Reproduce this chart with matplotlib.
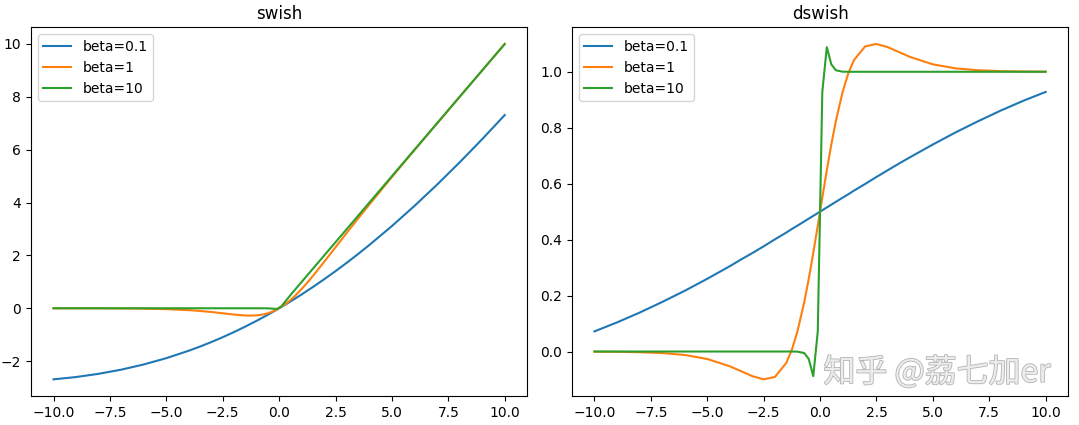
import matplotlib
matplotlib.use('Agg')
import matplotlib.pyplot as plt
import matplotlib.patheffects as pe

# sample positions (x) used for every curve
x = [-10, -9, -8, -7, -6, -5, -4, -3.5, -3, -2.5, -2, -1.5, -1.25, -1, -0.7, -0.5, -0.3, -0.1,
     0.1, 0.3, 0.5, 0.7, 1, 1.25, 1.5, 2, 2.5, 3, 3.5, 4, 5, 6, 7, 8, 9, 10]

labels = ['beta=0.1', 'beta=1', 'beta=10']

# swish values
swish_b01 = [-2.689, -2.602, -2.480, -2.323, -2.126, -1.888, -1.605, -1.447, -1.277, -1.095, -0.900, -0.694, -0.583, -0.475, -0.338, -0.244, -0.148, -0.050,
             0.050, 0.152, 0.256, 0.362, 0.525, 0.667, 0.806, 1.100, 1.405, 1.723, 2.053, 2.395, 3.112, 3.874, 4.677, 5.520, 6.398, 7.311]
swish_b1 = [-0.0005, -0.0011, -0.0027, -0.0064, -0.0148, -0.0335, -0.0719, -0.1026, -0.1423, -0.1896, -0.2384, -0.2736, -0.2784, -0.2689, -0.2323, -0.1888, -0.1277, -0.0475,
            0.0525, 0.1723, 0.3112, 0.4677, 0.7311, 0.9716, 1.2264, 1.7616, 2.3104, 2.8577, 3.3974, 3.9281, 4.9665, 5.9852, 6.9936, 7.9973, 8.9989, 9.9995]
swish_b10 = [0, 0, 0, 0, 0, 0, 0, 0, 0, 0, 0, 0, 0, -0.0005, -0.0006, -0.0034, -0.0142, -0.0269,
             0.0731, 0.2858, 0.4967, 0.6994, 0.9995, 1.25, 1.5, 2, 2.5, 3, 3.5, 4, 5, 6, 7, 8, 9, 10]

# dswish values
dswish_b01 = [0.072, 0.104, 0.139, 0.177, 0.217, 0.260, 0.305, 0.329, 0.352, 0.376, 0.401, 0.425, 0.438, 0.450, 0.465, 0.475, 0.485, 0.495,
              0.505, 0.515, 0.525, 0.535, 0.550, 0.562, 0.575, 0.599, 0.624, 0.648, 0.672, 0.695, 0.740, 0.783, 0.823, 0.861, 0.896, 0.928]
dswish_b1 = [-0.0004, -0.0010, -0.0024, -0.0055, -0.0123, -0.0266, -0.0527, -0.0703, -0.0881, -0.0994, -0.0908, -0.0413, 0.0063, 0.0723, 0.1766, 0.2600, 0.3522, 0.4501,
             0.5499, 0.6478, 0.7400, 0.8234, 0.9277, 0.9937, 1.0413, 1.0908, 1.0994, 1.0881, 1.0703, 1.0527, 1.0266, 1.0123, 1.0055, 1.0024, 1.0010, 1.0004]
dswish_b10 = [0, 0, 0, 0, 0, 0, 0, 0, 0, 0, 0, 0, 0, -0.0004, -0.0055, -0.0266, -0.0881, 0.0723,
              0.9277, 1.0881, 1.0266, 1.0055, 1.0004, 1, 1, 1, 1, 1, 1, 1, 1, 1, 1, 1, 1, 1]

fig = plt.figure(figsize=(10.79, 4.25), dpi=100)
ax1 = fig.add_axes([0.0287, 0.068, 0.460, 0.868])
ax2 = fig.add_axes([0.530, 0.068, 0.460, 0.868])

for y, lab in zip([swish_b01, swish_b1, swish_b10], labels):
    ax1.plot(x, y, label=lab)
ax1.set_title('swish')
ax1.legend(loc='upper left')

for y, lab in zip([dswish_b01, dswish_b1, dswish_b10], labels):
    ax2.plot(x, y, label=lab)
ax2.set_title('dswish')
ax2.legend(loc='upper left')

# zhihu watermark
wm = fig.text(0.974, 0.085, '知乎 @荔七加er', ha='right', va='bottom', fontsize=23,
              family=['Noto Sans CJK SC', 'DejaVu Sans'], color='#ececec')
wm.set_path_effects([pe.withStroke(linewidth=1.2, foreground='#b4b4b4')])

fig.savefig('out.png')
